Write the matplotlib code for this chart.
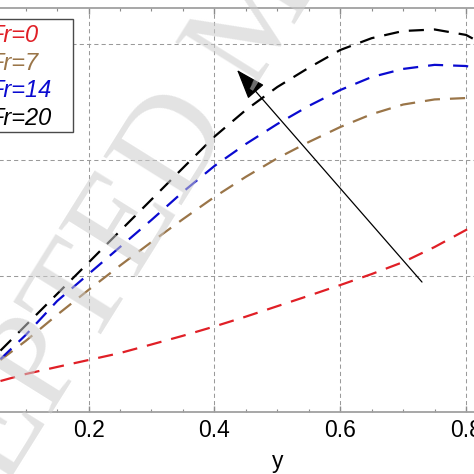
import matplotlib
matplotlib.use("Agg")
import matplotlib.pyplot as plt
from matplotlib.patches import Rectangle

plt.rcParams['font.family'] = ['Liberation Sans', 'DejaVu Sans']

# values (y axis units: grid lines at 1, 2, 3)
y_pos = [0.06, 0.10, 0.15, 0.20, 0.25, 0.30, 0.35, 0.40, 0.45,
         0.50, 0.55, 0.60, 0.65, 0.70, 0.75, 0.80, 0.815]
u_fr0 = [0.095, 0.155, 0.216, 0.276, 0.336, 0.410, 0.485, 0.565, 0.650,
         0.740, 0.830, 0.922, 1.017, 1.120, 1.250, 1.397, 1.440]
u_fr7 = [0.276, 0.440, 0.665, 0.880, 1.090, 1.293, 1.490, 1.681, 1.855,
         2.015, 2.155, 2.284, 2.395, 2.478, 2.522, 2.534, 2.534]
u_fr14 = [0.284, 0.491, 0.784, 1.017, 1.250, 1.483, 1.725, 1.948, 2.138,
          2.310, 2.466, 2.603, 2.715, 2.785, 2.820, 2.810, 2.793]
u_fr20 = [0.357, 0.574, 0.845, 1.116, 1.388, 1.659, 1.931, 2.201, 2.431,
          2.629, 2.795, 2.948, 3.050, 3.112, 3.125, 3.078, 3.034]

labels = ['Fr=0', 'Fr=7', 'Fr=14', 'Fr=20']
colors = ['#e01f26', '#9a7548', '#0a0ad0', '#000000']
x_ticks = [0.2, 0.4, 0.6, 0.8, 1.0]
x_tick_labels = ['0.2', '0.4', '0.6', '0.8', '1.0']
y_ticks = [1, 2, 3]

# arrow: tail -> head (direction of increasing Fr)
arrow_tail = (0.730, 0.948)
arrow_head = (0.436, 2.776)

W = H = 474
fig = plt.figure(figsize=(W / 100, H / 100), dpi=100)
ax = fig.add_axes([-0.0787, 0.1308, 1.3274, 0.8523])

series = [u_fr0, u_fr7, u_fr14, u_fr20]
for vals, c in zip(series, colors):
    ax.plot(y_pos, vals, color=c, lw=1.6, linestyle=(0, (6.8, 4.5)))

ax.set_xlim(0, 1)
ax.set_ylim(-0.172, 3.31)
ax.set_xticks(x_ticks)
ax.set_xticklabels(x_tick_labels)
ax.set_xticks([i * 0.05 for i in range(21)], minor=True)
ax.set_yticks(y_ticks)
ax.set_yticklabels([])
ax.grid(True, color='#9a9a9a', lw=0.75, linestyle=(0, (4, 3)))
ax.tick_params(axis='both', which='both', direction='in', top=True, right=True,
               color='#8c8c8c', labelsize=16.5, pad=5)
ax.tick_params(which='major', length=4.5, width=1)
ax.tick_params(which='minor', length=2.5, width=0.8)
for s in ax.spines.values():
    s.set_color('#a0a0a0')
    s.set_linewidth(1.3)
ax.set_xlabel('y', fontsize=16.5, labelpad=6)

ax.annotate('', xy=arrow_head, xytext=arrow_tail,
            arrowprops=dict(arrowstyle='-|>,head_length=0.9,head_width=0.32',
                            mutation_scale=21, color='black', lw=0.9,
                            shrinkA=0, shrinkB=0))

# legend box with coloured labels (box runs off the left edge)
fig.patches.append(Rectangle((-30 / W, 1 - 132 / H), 103 / W, 113 / H,
                             transform=fig.transFigure, facecolor='white',
                             edgecolor='#4a4a4a', lw=1.0, zorder=5))
for i, (lab, c) in enumerate(zip(labels, colors)):
    fig.text(-11 / W, 1 - (42 + 27.6 * i) / H, lab, color=c, fontsize=17,
             style='italic', ha='left', va='baseline', zorder=6)

# faint watermark over the plot
fig.text(-175 / W, 1 - 714 / H, 'ACCEPTED MANUSCRIPT', rotation=58,
         rotation_mode='anchor', ha='left', va='center', fontsize=100,
         family=['Liberation Serif', 'DejaVu Serif'], color='#cccccc',
         alpha=0.55, zorder=10)

fig.savefig('out.png', dpi=100)
